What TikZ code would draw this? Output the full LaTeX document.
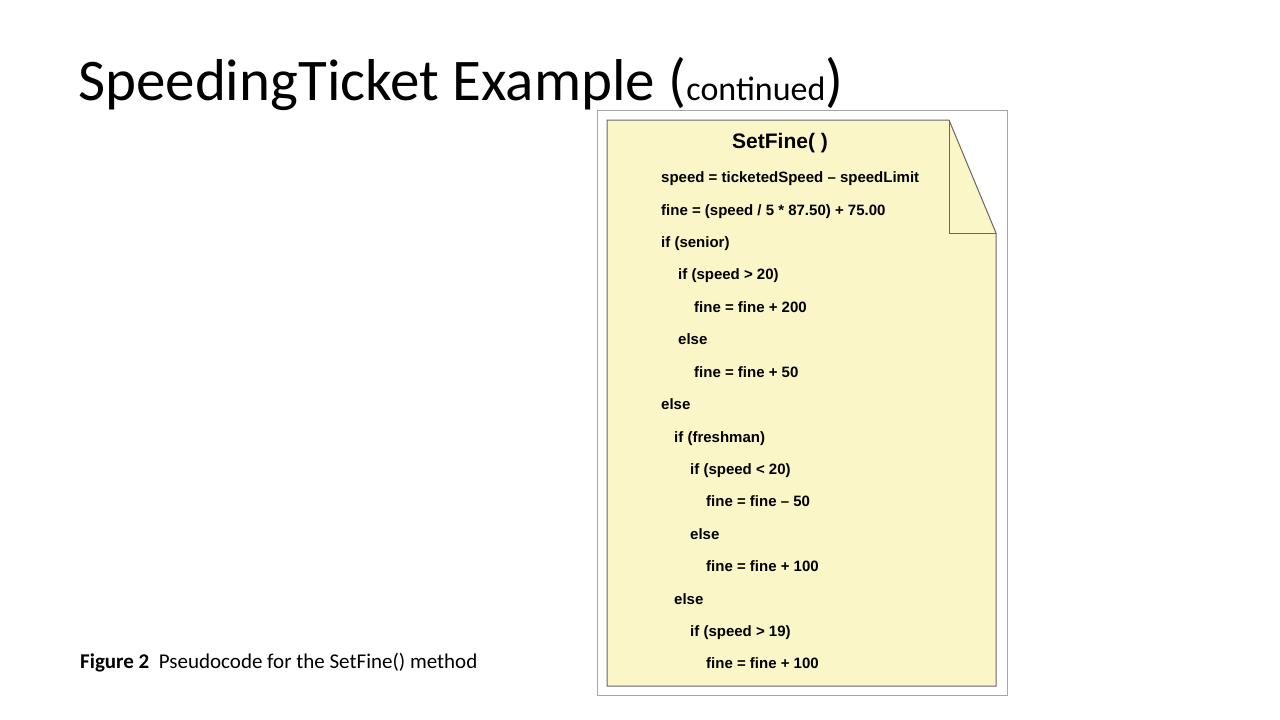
\documentclass[tikz,border=0pt]{standalone}
\usepackage{fontspec}
\setmainfont{Carlito}
\newfontfamily\codefont{Liberation Sans}
\definecolor{pagefill}{HTML}{FAF6C8}
\begin{document}
\begin{tikzpicture}[x=1pt,y=-1pt,
  code/.style={anchor=west,inner sep=0pt,text height=10.5pt,text depth=0pt,font=\codefont\bfseries\fontsize{15}{17}\selectfont}]
\useasboundingbox (0,0) rectangle (1280,720);
\fill[white] (0,0) rectangle (1280,720);
\node[anchor=base west,inner sep=0pt,font=\fontsize{59}{64}\selectfont] (title) at (78,100) {SpeedingTicket Example ({\fontsize{34}{38}\selectfont continued})};
\node[anchor=base west,inner sep=0pt,font=\fontsize{21}{24}\selectfont] (cap) at (80,668) {\textbf{Figure 2}\ \ Pseudocode for the SetFine() method};
\draw[gray!70,line width=1] (597,110) rectangle (1007,695);
\draw[gray!80!black,fill=pagefill,line width=1] (607,120) -- (949,120) -- (996,233) -- (996,686) -- (607,686) -- cycle;
\draw[gray!80!black,line width=1] (949,120) -- (949,233) -- (996,233);
\node[font=\codefont\bfseries\fontsize{21}{24}\selectfont,inner sep=0pt] (head) at (780,143) {SetFine( )};
\node[code] (l1) at (661,177) {speed = ticketedSpeed – speedLimit};
\node[code] (l2) at (661,210) {fine = (speed / 5 * 87.50) + 75.00};
\node[code] (l3) at (661,242) {if (senior)};
\node[code] (l4) at (678,274) {if (speed > 20)};
\node[code] (l5) at (694,307) {fine = fine + 200};
\node[code] (l6) at (678,339) {else};
\node[code] (l7) at (694,372) {fine = fine + 50};
\node[code] (l8) at (661,404) {else};
\node[code] (l9) at (674,437) {if (freshman)};
\node[code] (l10) at (690,469) {if (speed < 20)};
\node[code] (l11) at (706,501) {fine = fine – 50};
\node[code] (l12) at (690,534) {else};
\node[code] (l13) at (706,566) {fine = fine + 100};
\node[code] (l14) at (674,599) {else};
\node[code] (l15) at (690,631) {if (speed > 19)};
\node[code] (l16) at (706,663) {fine = fine + 100};
\end{tikzpicture}
\end{document}
